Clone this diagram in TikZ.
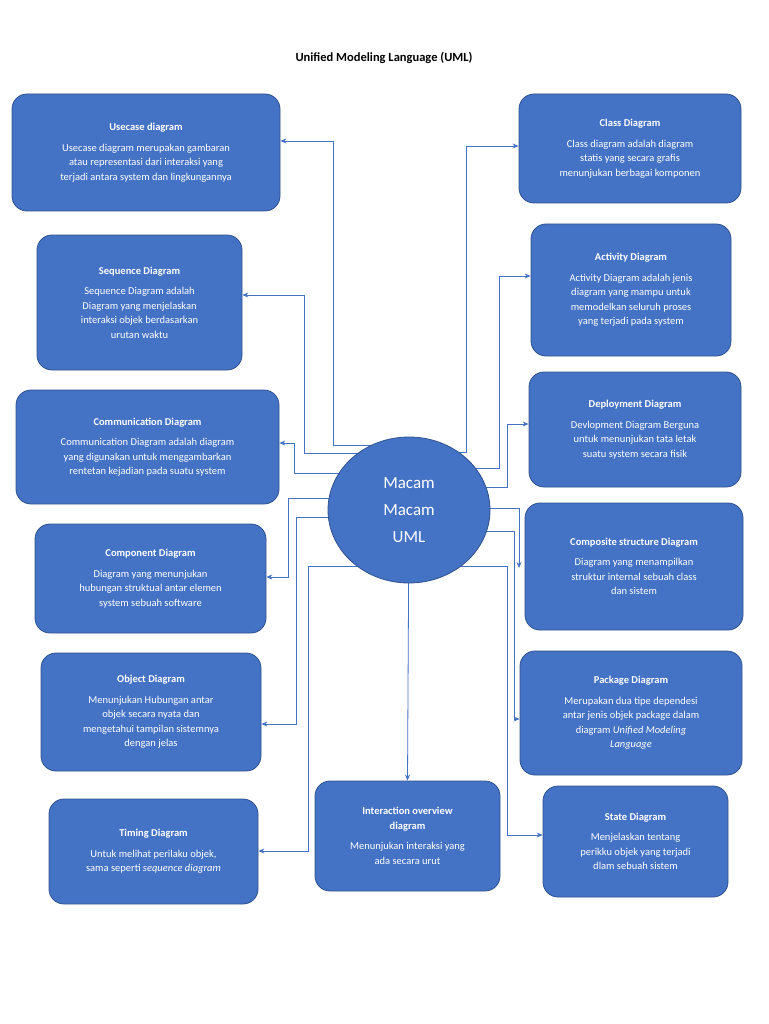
\documentclass[tikz,border=0pt]{standalone}
\usepackage{fontspec}
\setmainfont{Carlito}
\usetikzlibrary{shapes.geometric,arrows.meta,backgrounds}
\definecolor{ublue}{HTML}{4472C4}
\definecolor{uedge}{HTML}{2F528F}
\begin{document}
\begin{tikzpicture}[x=1pt,y=-1pt,
  box/.style={draw=uedge,line width=0.8pt,fill=ublue,rounded corners=15pt,text=white,align=center,font=\fontsize{10.5}{14.5}\selectfont,inner sep=4pt},
  conn/.style={draw=ublue,line width=0.8pt,-{Stealth[length=6pt,width=5pt]}},
  hd/.style={}]
\useasboundingbox (0,0) rectangle (768,1024);
\node[font=\bfseries\fontsize{12.5}{15}\selectfont] (title) at (384,58) {Unified Modeling Language (UML)};
\node[box,minimum width=268pt,minimum height=117pt] (use) at (146,152.5) {\textbf{Usecase diagram}\\[6pt]Usecase diagram merupakan gambaran\\atau representasi dari interaksi yang\\terjadi antara system dan lingkungannya};
\node[box,minimum width=222pt,minimum height=109pt] (cls) at (630,148.5) {\textbf{Class Diagram}\\[6pt]Class diagram adalah diagram\\statis yang secara grafis\\menunjukan berbagai komponen};
\node[box,minimum width=205pt,minimum height=135pt] (seq) at (139.5,302.5) {\textbf{Sequence Diagram}\\[6pt]Sequence Diagram adalah\\Diagram yang menjelaskan\\interaksi objek berdasarkan\\urutan waktu};
\node[box,minimum width=200pt,minimum height=132pt] (act) at (631,290) {\textbf{Activity Diagram}\\[6pt]Activity Diagram adalah jenis\\diagram yang mampu untuk\\memodelkan seluruh proses\\yang terjadi pada system};
\node[box,minimum width=263pt,minimum height=114pt] (com) at (147.5,447) {\textbf{Communication Diagram}\\[6pt]Communication Diagram adalah diagram\\yang digunakan untuk menggambarkan\\rentetan kejadian pada suatu system};
\node[box,minimum width=212pt,minimum height=115pt] (dep) at (635,429.5) {\textbf{Deployment Diagram}\\[6pt]Devlopment Diagram Berguna\\untuk menunjukan tata letak\\suatu system secara fisik};
\node[box,minimum width=231pt,minimum height=109pt] (cmp) at (150.5,578.5) {\textbf{Component Diagram}\\[6pt]Diagram yang menunjukan\\hubungan struktual antar elemen\\system sebuah software};
\node[box,minimum width=218pt,minimum height=127pt] (cst) at (634,566.5) {\textbf{Composite structure Diagram}\\[6pt]Diagram yang menampilkan\\struktur internal sebuah class\\dan sistem};
\node[box,minimum width=220pt,minimum height=118pt] (obj) at (151,712) {\textbf{Object Diagram}\\[6pt]Menunjukan Hubungan antar\\objek secara nyata dan\\mengetahui tampilan sistemnya\\dengan jelas};
\node[box,minimum width=222pt,minimum height=124pt] (pkg) at (631,713) {\textbf{Package Diagram}\\[6pt]Merupakan dua tipe dependesi\\antar jenis objek package dalam\\diagram \textit{Unified Modeling}\\\textit{Language}};
\node[box,minimum width=209pt,minimum height=105pt] (tim) at (153.5,851.5) {\textbf{Timing Diagram}\\[6pt]Untuk melihat perilaku objek,\\sama seperti \textit{sequence diagram}};
\node[box,minimum width=185pt,minimum height=110pt] (int) at (407.5,836) {\textbf{Interaction overview}\\\textbf{diagram}\\[6pt]Menunjukan interaksi yang\\ada secara urut};
\node[box,minimum width=185pt,minimum height=111pt] (sta) at (635.5,841.5) {\textbf{State Diagram}\\[6pt]Menjelaskan tentang\\perikku objek yang terjadi\\dlam sebuah sistem};
\node[ellipse,draw=uedge,line width=0.8pt,fill=ublue,text=white,minimum width=162pt,minimum height=146pt,align=center,font=\fontsize{17}{27}\selectfont] (ell) at (409,510) {Macam\\Macam\\UML};
\begin{scope}[on background layer]
\draw[conn] (ell.center |- 0,445) -- (333,445) -- (333,141) -- (use.east |- 0,141);
\draw[conn] (ell.center |- 0,453) -- (304,453) -- (304,295) -- (seq.east |- 0,295);
\draw[conn] (ell.center |- 0,473) -- (294,473) -- (294,443) -- (com.east |- 0,443);
\draw[conn] (ell.center |- 0,498) -- (288,498) -- (288,577) -- (cmp.east |- 0,577);
\draw[conn] (ell.center |- 0,517) -- (296,517) -- (296,724) -- (obj.east |- 0,724);
\draw[conn] (ell.center |- 0,566) -- (308,566) -- (308,851) -- (tim.east |- 0,851);
\draw[conn] (ell.center) -- (int.north);
\draw[conn] (ell.center |- 0,566) -- (507,566) -- (507,835) -- (sta.west |- 0,835);
\draw[conn] (ell.center |- 0,531) -- (514,531) -- (514,719) -- (pkg.west |- 0,719);
\draw[conn] (ell.center |- 0,508) -- (519,508) -- (519,568);
\draw[conn] (ell.center |- 0,487) -- (507,487) -- (507,424) -- (dep.west |- 0,424);
\draw[conn] (ell.center |- 0,468) -- (499,468) -- (499,276) -- (act.west |- 0,276);
\draw[conn] (ell.center |- 0,452) -- (466,452) -- (466,146) -- (cls.west |- 0,146);
\end{scope}
\end{tikzpicture}
\end{document}
